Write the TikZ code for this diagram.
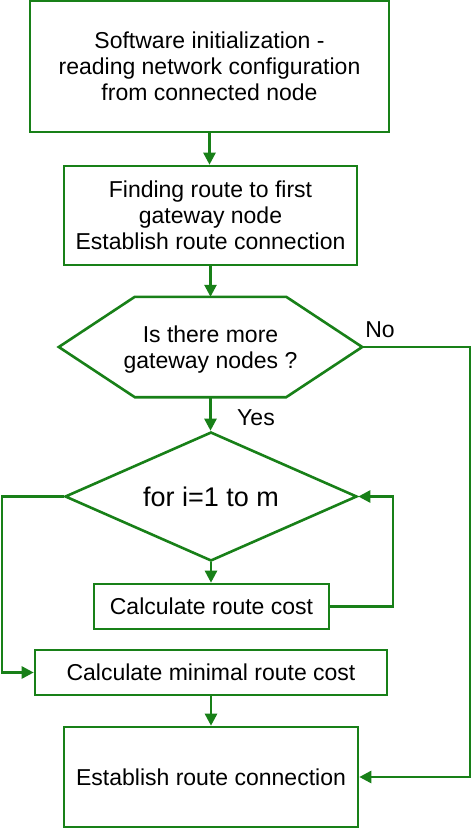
\documentclass[tikz,border=0pt]{standalone}
\usepackage{fontspec}
\setmainfont{Liberation Sans}
\usetikzlibrary{shapes.geometric,arrows.meta,calc}
\definecolor{fcgreen}{RGB}{24,128,24}
\tikzset{
  boxnode/.style={draw=fcgreen, line width=2.6pt, rectangle, inner sep=0pt, align=center,
    font=\fontsize{23}{26}\selectfont},
  plain/.style={inner sep=0pt, align=center, font=\fontsize{23}{26}\selectfont},
  conn/.style={draw=fcgreen, line width=2.6pt},
  arr/.style={conn, -{Triangle[length=12pt,width=12pt]}},
}
\begin{document}
\begin{tikzpicture}[x=1pt,y=-1pt]
\useasboundingbox (0,0) rectangle (474,830);
\node[boxnode, minimum width=359pt, minimum height=131pt] (b1) at (209.5,66.5)
  {Software initialization -\\reading network configuration\\from connected node};
\node[boxnode, minimum width=293pt, minimum height=99pt] (b2) at (210.5,215.5)
  {Finding route to first\\gateway node\\Establish route connection};
\node[plain, minimum width=303pt, minimum height=100pt] (hex) at (210.5,347) {};
\node[plain] (hext) at (210.5,350) {Is there more\\gateway nodes ?};
\draw[conn] ([xshift=76pt]hex.north west) -- ([xshift=-76pt]hex.north east) -- (hex.east)
  -- ([xshift=-76pt]hex.south east) -- ([xshift=76pt]hex.south west) -- (hex.west) -- cycle;
\node[diamond, draw=fcgreen, line width=2.6pt, inner sep=0pt, aspect=2.26,
  minimum width=292pt, minimum height=129pt,
  font=\fontsize{27}{30}\selectfont] (dia) at (211,496.5) {for i=1 to m};
\node[boxnode, minimum width=235pt, minimum height=45pt] (b4) at (211.5,606.5) {Calculate route cost};
\node[boxnode, minimum width=352pt, minimum height=45pt] (b5) at (211,672.5) {Calculate minimal route cost};
\node[boxnode, minimum width=294pt, minimum height=100pt] (b6) at (211,777) {Establish route connection};
\node[plain] (yes) at (256,418) {Yes};
\node[plain] (no) at (380,330) {No};
\coordinate (noR) at (470,347);
\coordinate (loopX) at (393,550);
\coordinate (leftX) at (2,550);
\draw[arr] (b1.south) -- (b1.south |- b2.north);
\draw[arr] (b2.south) -- (b2.south |- hex.north);
\draw[arr] (hex.south) -- (hex.south |- dia.north);
\draw[arr] (hex.east) -- (noR) |- (b6.east);
\draw[arr] (dia.south) -- (dia.south |- b4.north);
\draw[arr] (b4.east) -- (b4.east -| loopX) |- (dia.east);
\draw[arr] (dia.west) -- (dia.west -| leftX) |- (b5.west);
\draw[arr] (b5.south) -- (b5.south |- b6.north);
\end{tikzpicture}
\end{document}
